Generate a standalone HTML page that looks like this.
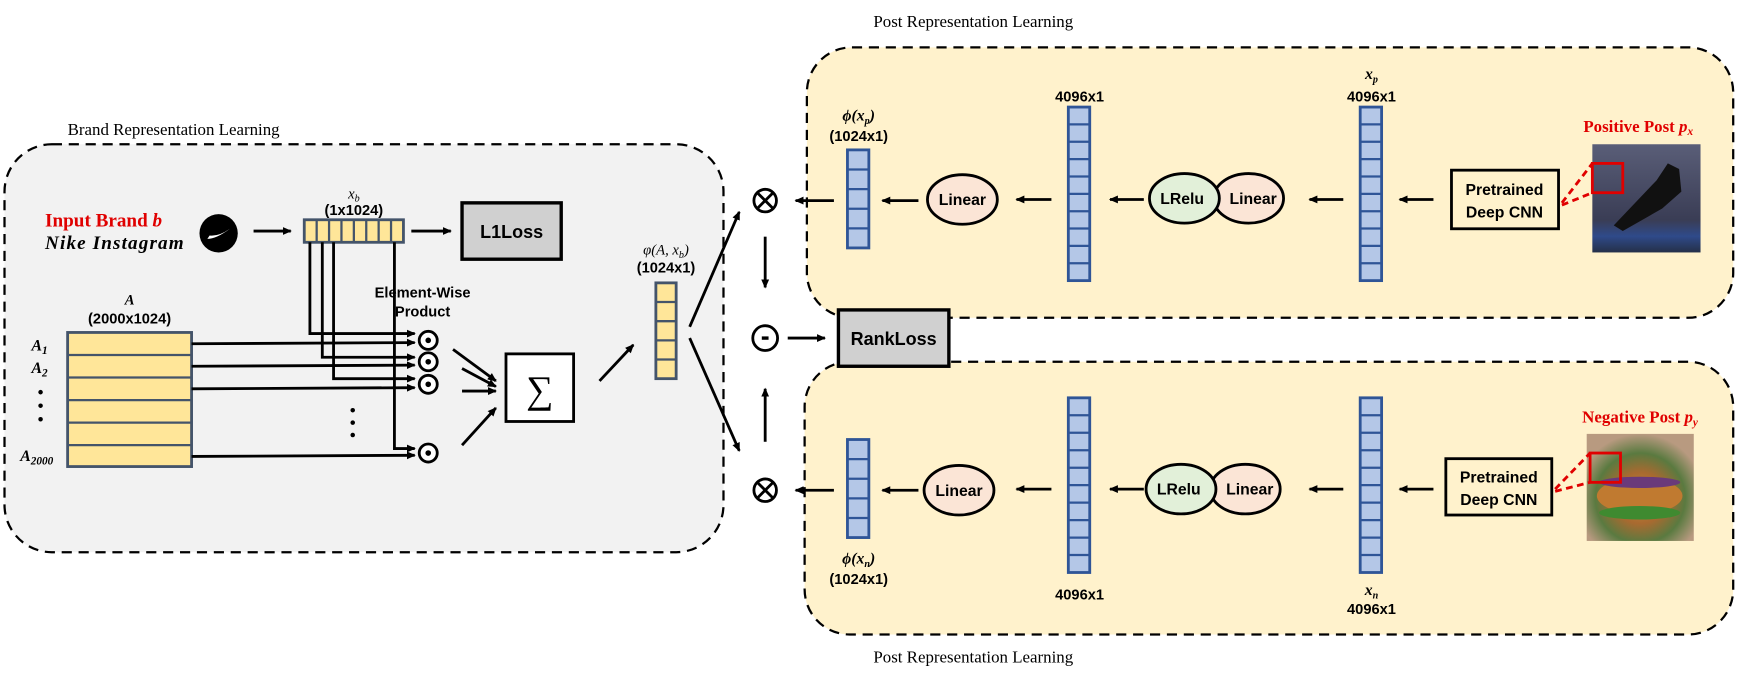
<!DOCTYPE html>
<html><head><meta charset="utf-8"><style>
html,body{margin:0;padding:0;background:#fff}
svg{display:block}
.s{font-family:"Liberation Sans",sans-serif;font-weight:bold}
.r{font-family:"Liberation Serif",serif}
</style></head><body>
<svg width="1758" height="679" viewBox="0 0 1560 602.5" preserveAspectRatio="none" xmlns="http://www.w3.org/2000/svg">
<defs>
<marker id="a" markerWidth="8" markerHeight="8" refX="7" refY="4" orient="auto" markerUnits="userSpaceOnUse"><path d="M0,0.5 L8,4 L0,7.5 Z" fill="#000"/></marker>
<linearGradient id="g1" x1="0" y1="0" x2="0" y2="1"><stop offset="0" stop-color="#5a5e78"/><stop offset="0.7" stop-color="#3a3d55"/><stop offset="0.85" stop-color="#2f4a8a"/><stop offset="1" stop-color="#253048"/></linearGradient>
<radialGradient id="g2" cx="0.5" cy="0.6" r="0.6"><stop offset="0" stop-color="#c98a3a"/><stop offset="0.4" stop-color="#a86a30"/><stop offset="0.7" stop-color="#5a7a40"/><stop offset="1" stop-color="#b89a80"/></radialGradient>
</defs>

<!-- Left panel -->
<rect x="4" y="128" width="638" height="362" rx="42" fill="#f2f2f2" stroke="#000" stroke-width="2" stroke-dasharray="9,6"/>
<text x="60" y="120" class="r" font-size="15">Brand Representation Learning</text>
<text x="40" y="201" class="r" font-size="17" font-weight="bold" fill="#e00000">Input Brand <tspan font-style="italic">b</tspan></text>
<text x="40" y="221" class="r" font-size="17" font-weight="bold" font-style="italic" letter-spacing="1">Nike Instagram</text>
<circle cx="194" cy="207" r="17" fill="#000"/>
<path d="M184,212 Q192,212 204,203 Q194,210 186,209 Z" fill="#fff"/>
<line x1="225" y1="205" x2="258" y2="205" stroke="#000" stroke-width="2.5" marker-end="url(#a)"/>
<!-- x_b -->
<text x="314" y="176" class="r" font-size="13" font-style="italic" text-anchor="middle">x<tspan font-size="9" dy="3">b</tspan></text>
<text x="314" y="191" class="s" font-size="13" text-anchor="middle">(1x1024)</text>
<rect x="270" y="195" width="88" height="20" fill="#ffe699" stroke="#44546a" stroke-width="2.5"/>
<g stroke="#44546a" stroke-width="2"><line x1="281" y1="195" x2="281" y2="215"/><line x1="292" y1="195" x2="292" y2="215"/><line x1="303" y1="195" x2="303" y2="215"/><line x1="314" y1="195" x2="314" y2="215"/><line x1="325" y1="195" x2="325" y2="215"/><line x1="336" y1="195" x2="336" y2="215"/><line x1="347" y1="195" x2="347" y2="215"/></g>
<line x1="365" y1="205" x2="400" y2="205" stroke="#000" stroke-width="2.5" marker-end="url(#a)"/>
<rect x="410" y="180" width="88" height="50" fill="#d0d0d0" stroke="#000" stroke-width="3"/>
<text x="454" y="211" class="s" font-size="16" text-anchor="middle">L1Loss</text>
<!-- A -->
<text x="115" y="270" class="r" font-size="13" font-style="italic" text-anchor="middle" font-weight="bold">A</text>
<text x="115" y="287" class="s" font-size="13" text-anchor="middle">(2000x1024)</text>
<rect x="60" y="295" width="110" height="119" fill="#ffe699" stroke="#44546a" stroke-width="2.5"/>
<g stroke="#44546a" stroke-width="2"><line x1="60" y1="315" x2="170" y2="315"/><line x1="60" y1="335" x2="170" y2="335"/><line x1="60" y1="355" x2="170" y2="355"/><line x1="60" y1="375" x2="170" y2="375"/><line x1="60" y1="395" x2="170" y2="395"/></g>
<g class="r" font-size="14" font-style="italic" font-weight="bold">
<text x="28" y="311">A<tspan font-size="10" dy="3">1</tspan></text>
<text x="28" y="331">A<tspan font-size="10" dy="3">2</tspan></text>
<text x="18" y="409">A<tspan font-size="10" dy="3">2000</tspan></text></g>
<circle cx="36" cy="348" r="2" fill="#000"/><circle cx="36" cy="360" r="2" fill="#000"/><circle cx="36" cy="372" r="2" fill="#000"/>
<!-- lines from x_b -->
<g stroke="#000" stroke-width="2.5" fill="none">
<path d="M275,215 V296 H368" marker-end="url(#a)"/>
<path d="M286,215 V317 H368" marker-end="url(#a)"/>
<path d="M296,215 V336 H368" marker-end="url(#a)"/>
<path d="M350,215 V398 H368" marker-end="url(#a)"/>
<line x1="170" y1="305" x2="368" y2="304" marker-end="url(#a)"/>
<line x1="170" y1="325" x2="368" y2="324" marker-end="url(#a)"/>
<line x1="170" y1="345" x2="368" y2="344" marker-end="url(#a)"/>
<line x1="170" y1="405" x2="368" y2="404" marker-end="url(#a)"/>
</g>
<text x="375" y="264" class="s" font-size="13" text-anchor="middle">Element-Wise</text>
<text x="375" y="281" class="s" font-size="13" text-anchor="middle">Product</text>
<g stroke="#000" stroke-width="2.5" fill="#fff">
<circle cx="380" cy="302" r="8"/><circle cx="380" cy="321" r="8"/><circle cx="380" cy="341" r="8"/><circle cx="380" cy="402" r="8"/></g>
<g fill="#000"><circle cx="380" cy="302" r="2.5"/><circle cx="380" cy="321" r="2.5"/><circle cx="380" cy="341" r="2.5"/><circle cx="380" cy="402" r="2.5"/>
<circle cx="313" cy="364" r="2"/><circle cx="313" cy="375" r="2"/><circle cx="313" cy="386" r="2"/></g>
<g stroke="#000" stroke-width="2.5">
<line x1="402" y1="310" x2="440" y2="338" marker-end="url(#a)"/>
<line x1="410" y1="327" x2="440" y2="343" marker-end="url(#a)"/>
<line x1="410" y1="347" x2="440" y2="347" marker-end="url(#a)"/>
<line x1="410" y1="395" x2="440" y2="362" marker-end="url(#a)"/>
<line x1="532" y1="338" x2="562" y2="306" marker-end="url(#a)"/>
</g>
<rect x="449" y="314" width="60" height="60" fill="#fff" stroke="#000" stroke-width="2.5"/>
<text x="479" y="357" class="r" font-size="34" text-anchor="middle">∑</text>
<!-- phi(A,x_b) -->
<text x="591" y="226" class="r" font-size="13" font-style="italic" text-anchor="middle">φ(A, x<tspan font-size="9" dy="3">b</tspan><tspan dy="-3">)</tspan></text>
<text x="591" y="242" class="s" font-size="13" text-anchor="middle">(1024x1)</text>
<rect x="582" y="251" width="18" height="85" fill="#ffe699" stroke="#44546a" stroke-width="2.5"/>
<g stroke="#44546a" stroke-width="2"><line x1="582" y1="268" x2="600" y2="268"/><line x1="582" y1="285" x2="600" y2="285"/><line x1="582" y1="302" x2="600" y2="302"/><line x1="582" y1="319" x2="600" y2="319"/></g>
<g stroke="#000" stroke-width="2.5">
<line x1="612" y1="290" x2="656" y2="188" marker-end="url(#a)"/>
<line x1="612" y1="300" x2="656" y2="400" marker-end="url(#a)"/>
</g>

<!-- Right panels -->
<rect x="716" y="42" width="822" height="240" rx="40" fill="#fff2cc" stroke="#000" stroke-width="2" stroke-dasharray="9,6"/>
<rect x="714" y="321" width="824" height="242" rx="40" fill="#fff2cc" stroke="#000" stroke-width="2" stroke-dasharray="9,6"/>
<text x="775" y="24" class="r" font-size="15">Post Representation Learning</text>
<text x="775" y="588" class="r" font-size="15">Post Representation Learning</text>

<!-- middle -->
<g stroke="#000" stroke-width="2.5" fill="#fff">
<circle cx="679" cy="178" r="10"/><circle cx="679" cy="435" r="10"/><circle cx="679" cy="300" r="11"/></g>
<g stroke="#000" stroke-width="2.5">
<line x1="672" y1="171" x2="686" y2="185"/><line x1="686" y1="171" x2="672" y2="185"/>
<line x1="672" y1="428" x2="686" y2="442"/><line x1="686" y1="428" x2="672" y2="442"/>
<line x1="676" y1="300" x2="682" y2="300" stroke-width="3"/>
<line x1="679" y1="210" x2="679" y2="255" marker-end="url(#a)"/>
<line x1="679" y1="392" x2="679" y2="345" marker-end="url(#a)"/>
<line x1="699" y1="300" x2="732" y2="300" marker-end="url(#a)"/>
</g>
<rect x="744" y="275" width="98" height="50" fill="#d0d0d0" stroke="#000" stroke-width="3"/>
<text x="793" y="306" class="s" font-size="16" text-anchor="middle">RankLoss</text>

<!-- top row -->
<g id="row">
</g>
<g stroke="#000" stroke-width="2.5">
<line x1="740" y1="178" x2="706" y2="178" marker-end="url(#a)"/>
<line x1="815" y1="178" x2="783" y2="178" marker-end="url(#a)"/>
<line x1="933" y1="177" x2="902" y2="177" marker-end="url(#a)"/>
<line x1="1015" y1="177" x2="985" y2="177" marker-end="url(#a)"/>
<line x1="1192" y1="177" x2="1162" y2="177" marker-end="url(#a)"/>
<line x1="1272" y1="177" x2="1242" y2="177" marker-end="url(#a)"/>
<line x1="740" y1="435" x2="706" y2="435" marker-end="url(#a)"/>
<line x1="815" y1="435" x2="783" y2="435" marker-end="url(#a)"/>
<line x1="933" y1="434" x2="902" y2="434" marker-end="url(#a)"/>
<line x1="1015" y1="434" x2="985" y2="434" marker-end="url(#a)"/>
<line x1="1192" y1="434" x2="1162" y2="434" marker-end="url(#a)"/>
<line x1="1272" y1="434" x2="1242" y2="434" marker-end="url(#a)"/>
</g>
<!-- vectors top -->
<g fill="#b4c7e7" stroke="#2f5597" stroke-width="2.5">
<rect x="752" y="133" width="19" height="87"/>
<rect x="948" y="95" width="19" height="154"/>
<rect x="1207" y="95" width="19" height="154"/>
<rect x="752" y="390" width="19" height="87"/>
<rect x="948" y="353" width="19" height="155"/>
<rect x="1207" y="353" width="19" height="155"/>
</g>
<g stroke="#2f5597" stroke-width="2">
<path d="M752,150.4h19M752,167.8h19M752,185.2h19M752,202.6h19"/>
<path d="M752,407.4h19M752,424.8h19M752,442.2h19M752,459.6h19"/>
<path d="M948,110.4h19M948,125.8h19M948,141.2h19M948,156.6h19M948,172h19M948,187.4h19M948,202.8h19M948,218.2h19M948,233.6h19"/>
<path d="M1207,110.4h19M1207,125.8h19M1207,141.2h19M1207,156.6h19M1207,172h19M1207,187.4h19M1207,202.8h19M1207,218.2h19M1207,233.6h19"/>
<path d="M948,368.5h19M948,384h19M948,399.5h19M948,415h19M948,430.5h19M948,446h19M948,461.5h19M948,477h19M948,492.5h19"/>
<path d="M1207,368.5h19M1207,384h19M1207,399.5h19M1207,415h19M1207,430.5h19M1207,446h19M1207,461.5h19M1207,477h19M1207,492.5h19"/>
</g>
<!-- ellipses -->
<g stroke="#000" stroke-width="2.5">
<ellipse cx="854" cy="177" rx="31" ry="22" fill="#fbe5d6"/>
<ellipse cx="1108" cy="176" rx="31" ry="22" fill="#fbe5d6"/>
<ellipse cx="1051" cy="176" rx="31" ry="22" fill="#e2f0d9"/>
<ellipse cx="851" cy="435" rx="31" ry="22" fill="#fbe5d6"/>
<ellipse cx="1105" cy="434" rx="31" ry="22" fill="#fbe5d6"/>
<ellipse cx="1048" cy="434" rx="31" ry="22" fill="#e2f0d9"/>
</g>
<g class="s" font-size="14" text-anchor="middle">
<text x="854" y="182">Linear</text><text x="1112" y="181">Linear</text><text x="1049" y="181">LRelu</text>
<text x="851" y="440">Linear</text><text x="1109" y="439">Linear</text><text x="1046" y="439">LRelu</text>
</g>
<!-- labels -->
<g class="s" font-size="13" text-anchor="middle">
<text x="762" y="125">(1024x1)</text>
<text x="958" y="90">4096x1</text>
<text x="1217" y="90">4096x1</text>
<text x="762" y="518">(1024x1)</text>
<text x="958" y="532">4096x1</text>
<text x="1217" y="545">4096x1</text>
</g>
<g class="r" font-size="14" font-style="italic" font-weight="bold" text-anchor="middle">
<text x="762" y="107">ϕ(x<tspan font-size="9" dy="3">p</tspan><tspan dy="-3">)</tspan></text>
<text x="1217" y="70">x<tspan font-size="9" dy="3">p</tspan></text>
<text x="762" y="500">ϕ(x<tspan font-size="9" dy="3">n</tspan><tspan dy="-3">)</tspan></text>
<text x="1217" y="528">x<tspan font-size="9" dy="3">n</tspan></text>
</g>
<!-- Pretrained boxes -->
<rect x="1288" y="151" width="95" height="52" fill="#fff2cc" stroke="#000" stroke-width="2.5"/>
<rect x="1283" y="407" width="94" height="50" fill="#fff2cc" stroke="#000" stroke-width="2.5"/>
<g class="s" font-size="14" text-anchor="middle">
<text x="1335" y="173">Pretrained</text><text x="1335" y="193">Deep CNN</text>
<text x="1330" y="428">Pretrained</text><text x="1330" y="448">Deep CNN</text>
</g>
<!-- images -->
<rect x="1413" y="128" width="96" height="96" fill="url(#g1)"/>
<path d="M1432,200 L1470,160 L1480,145 L1490,150 L1492,170 L1475,185 L1440,205 Z" fill="#111"/>
<rect x="1408" y="385" width="95" height="95" fill="url(#g2)"/>
<ellipse cx="1455" cy="440" rx="38" ry="16" fill="#c07a30"/>
<ellipse cx="1455" cy="428" rx="36" ry="5" fill="#6a3a7a"/>
<ellipse cx="1455" cy="455" rx="36" ry="6" fill="#3f8a30"/>
<g stroke="#e00000" stroke-width="2.5" fill="none">
<rect x="1413" y="145" width="27" height="26"/>
<path d="M1386,180 L1413,145 M1386,182 L1413,171" stroke-dasharray="6,4"/>
<rect x="1411" y="402" width="27" height="26"/>
<path d="M1380,434 L1411,402 M1380,436 L1411,428" stroke-dasharray="6,4"/>
</g>
<g class="r" font-size="15" font-weight="bold" fill="#e00000">
<text x="1405" y="117">Positive Post <tspan font-style="italic">p</tspan><tspan font-size="10" font-style="italic" dy="3">x</tspan></text>
<text x="1404" y="375">Negative Post <tspan font-style="italic">p</tspan><tspan font-size="10" font-style="italic" dy="3">y</tspan></text>
</g>
</svg>
</body></html>
